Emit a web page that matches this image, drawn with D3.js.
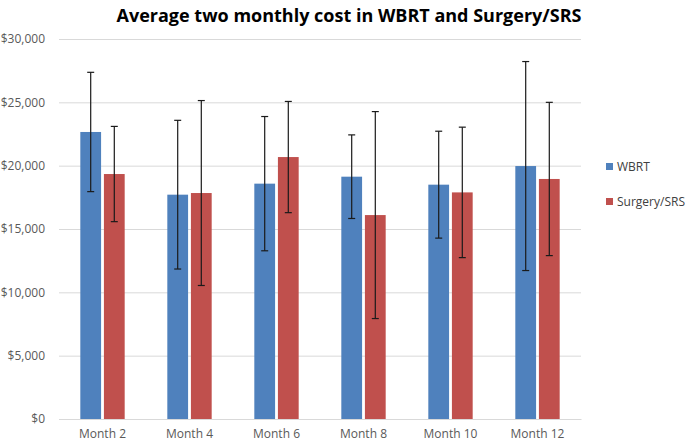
<!DOCTYPE html>
<html>
<head>
<meta charset="utf-8">
<script src="https://cdn.jsdelivr.net/npm/d3@7"></script>
<style>
  body { margin: 0; background: #fff; }
  text { font-family: "Open Sans", "Noto Sans", sans-serif; }
</style>
</head>
<body>
<div id="holder"></div>
<script>
const months = ['Month 2', 'Month 4', 'Month 6', 'Month 8', 'Month 10', 'Month 12'];
const series = ['WBRT', 'Surgery/SRS'];
const wbrt = [22660, 17710, 18580, 19130, 18500, 19970];
const wbrtErr = [4710, 5870, 5300, 3300, 4220, 8250];
const surgery = [19340, 17840, 20680, 16100, 17890, 18950];
const surgeryErr = [3760, 7300, 4390, 8170, 5150, 6050];
const yTicks = [0, 5000, 10000, 15000, 20000, 25000, 30000];
const colors = ['#4F81BD', '#C0504D'];

const w = 685;
const h = 447;
const margin = {top: 39, left: 59, right: 104, bottom: 28};

const svg = d3.select('#holder')
    .append('svg')
    .attr('width', w)
    .attr('height', h);

const xScale = d3.scaleBand()
    .domain(months)
    .range([margin.left, w - margin.right])
    .paddingInner(0.49)
    .paddingOuter(0.245);

const x1 = d3.scaleBand()
    .domain(series)
    .range([0, xScale.bandwidth()])
    .paddingInner(0.12);

const yScale = d3.scaleLinear()
    .domain([0, 30000])
    .range([h - margin.bottom, margin.top]);

// title
svg.append('text')
    .attr('x', 349)
    .attr('y', 22)
    .attr('text-anchor', 'middle')
    .style('font-size', '18px')
    .style('font-weight', 'bold')
    .attr('fill', '#000')
    .text('Average two monthly cost in WBRT and Surgery/SRS');

// grid
const yAxis = d3.axisLeft(yScale)
    .tickValues(yTicks)
    .tickSize(-(w - margin.left - margin.right))
    .tickPadding(14)
    .tickFormat(d => '$' + d3.format(',')(d));

svg.append('g')
    .attr('transform', 'translate(' + margin.left + ',0)')
    .call(yAxis)
    .call(g => g.select('.domain').remove())
    .call(g => g.selectAll('.tick line').attr('stroke', '#d9d9d9'))
    .call(g => g.selectAll('.tick text')
        .attr('fill', '#595959')
        .style('font-size', '12px'));

const xAxis = d3.axisBottom(xScale).tickSize(0).tickPadding(10);
svg.append('g')
    .attr('transform', 'translate(0,' + (h - margin.bottom) + ')')
    .call(xAxis)
    .call(g => g.select('.domain').attr('stroke', '#d9d9d9'))
    .call(g => g.selectAll('.tick text')
        .attr('fill', '#595959')
        .style('font-size', '12px'));

const rows = months.map((m, i) => [
    {month: m, key: series[0], v: wbrt[i], e: wbrtErr[i], c: colors[0]},
    {month: m, key: series[1], v: surgery[i], e: surgeryErr[i], c: colors[1]}
]);

const groups = svg.selectAll('g.month')
    .data(rows)
    .enter()
    .append('g')
    .attr('class', 'month')
    .attr('transform', d => 'translate(' + xScale(d[0].month) + ',0)');

groups.selectAll('rect')
    .data(d => d)
    .enter()
    .append('rect')
    .attr('x', d => x1(d.key))
    .attr('y', d => yScale(d.v))
    .attr('width', x1.bandwidth())
    .attr('height', d => yScale(0) - yScale(d.v))
    .attr('fill', d => d.c);

const cap = 3.5;
const err = groups.selectAll('g.err')
    .data(d => d)
    .enter()
    .append('g')
    .attr('class', 'err')
    .attr('stroke', '#1a1a1a')
    .attr('stroke-width', 1.2);

err.append('line')
    .attr('x1', d => x1(d.key) + x1.bandwidth() / 2)
    .attr('x2', d => x1(d.key) + x1.bandwidth() / 2)
    .attr('y1', d => yScale(d.v + d.e))
    .attr('y2', d => yScale(d.v - d.e));

err.append('line')
    .attr('x1', d => x1(d.key) + x1.bandwidth() / 2 - cap)
    .attr('x2', d => x1(d.key) + x1.bandwidth() / 2 + cap)
    .attr('y1', d => yScale(d.v + d.e))
    .attr('y2', d => yScale(d.v + d.e));

err.append('line')
    .attr('x1', d => x1(d.key) + x1.bandwidth() / 2 - cap)
    .attr('x2', d => x1(d.key) + x1.bandwidth() / 2 + cap)
    .attr('y1', d => yScale(d.v - d.e))
    .attr('y2', d => yScale(d.v - d.e));

// legend
const legend = svg.selectAll('g.legend')
    .data(series)
    .enter()
    .append('g')
    .attr('class', 'legend')
    .attr('transform', (d, i) => 'translate(606,' + (163 + i * 35) + ')');

legend.append('rect')
    .attr('width', 7)
    .attr('height', 7)
    .attr('fill', (d, i) => colors[i]);

legend.append('text')
    .attr('x', 11)
    .attr('y', 8)
    .attr('fill', '#404040')
    .style('font-size', '12px')
    .text(d => d);
</script>
</body>
</html>
